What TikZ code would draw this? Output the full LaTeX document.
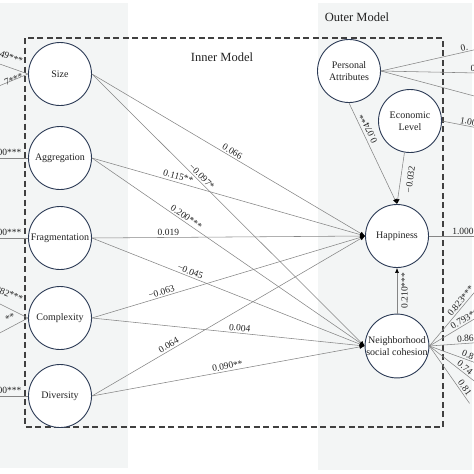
\documentclass[tikz,border=0pt]{standalone}
\usepackage{fontspec}
\setmainfont{Liberation Serif}
\usetikzlibrary{arrows.meta,calc}
\definecolor{bgpanel}{HTML}{F3F5F5}
\definecolor{circ}{HTML}{2B3A55}
\definecolor{edgec}{HTML}{858585}
\definecolor{txt}{HTML}{222222}
\begin{document}
\begin{tikzpicture}[x=1pt,y=-1pt,
  lat/.style={circle,draw=circ,line width=0.9pt,fill=white,minimum size=63pt,inner sep=0pt,align=center,font=\fontsize{10}{11.5}\selectfont,text=txt},
  pathc/.style={draw=edgec,line width=0.55pt,-{Latex[length=5pt,width=4pt,color=black]}},
  pathr/.style={draw=edgec,line width=0.55pt,{Latex[length=5pt,width=4pt,color=black]}-},
  link/.style={draw=edgec,line width=0.55pt},
  lab/.style={font=\fontsize{9.5}{10}\selectfont,text=txt,inner sep=1.5pt},
  title/.style={font=\fontsize{12.5}{14}\selectfont,text=txt}]
\useasboundingbox (0,0) rectangle (474,474);
\clip (0,0) rectangle (474,474);
\fill[bgpanel] (0,3) rectangle (128,468);
\fill[bgpanel] (318,3) rectangle (472,470);
\draw[draw=black!75,line width=1.1pt,dash pattern=on 6pt off 3.5pt] (25,38) rectangle (443,427);
\node[title] (inner) at (222,57) {Inner Model};
\node[title] (outer) at (357,17) {Outer Model};
% latent variables
\node[lat] (size) at (60,74) {Size};
\node[lat] (agg) at (60,158) {Aggregation};
\node[lat] (frag) at (60,238) {Fragmentation};
\node[lat] (comp) at (60,318) {Complexity};
\node[lat] (div) at (60,396) {Diversity};
\node[lat] (pa) at (349,71) {Personal\\Attributes};
\node[lat] (el) at (410,121) {Economic\\Level};
\node[lat] (hap) at (397,236) {Happiness};
\node[lat] (nsc) at (397,346) {Neighborhood\\social cohesion};
% inner paths
\draw[pathc] (size.east) -- node[lab,sloped,above,pos=.505]{0.066} (hap.west);
\draw[pathc] (size.east) -- node[lab,sloped,above,pos=.39]{−0.097*} (nsc.west);
\draw[pathc] (agg.east) -- node[lab,sloped,above,pos=.31,inner sep=2.5pt]{0.115**} (hap.west);
\draw[pathc] (agg.east) -- node[lab,sloped,above,pos=.336]{0.200***} (nsc.west);
\draw[pathc] (frag.east) -- node[lab,sloped,above,pos=.28]{0.019} (hap.west);
\draw[pathc] (frag.east) -- node[lab,sloped,above,pos=.354]{−0.045} (nsc.west);
\draw[pathc] (comp.east) -- node[lab,sloped,above,pos=.26]{−0.063} (hap.west);
\draw[pathc] (comp.east) -- node[lab,sloped,above,pos=.54]{0.004} (nsc.west);
\draw[pathc] (div.east) -- node[lab,sloped,above,pos=.29]{0.064} (hap.west);
\draw[pathc] (div.east) -- node[lab,sloped,above,pos=.5]{0.090**} (nsc.west);
\draw[pathr] (hap.north) -- node[lab,sloped,allow upside down,below,pos=.72,inner sep=3pt]{0.074**} (pa.south);
\draw[pathr] (hap.north) -- node[lab,sloped,below,pos=.5,inner sep=6pt]{−0.032} (el.-100);
\draw[pathc] (nsc.north) -- node[lab,sloped,below,pos=.5,inner sep=4pt]{0.210***} (hap.south);
% outer model, left indicators
\coordinate (s1) at (-6,62);
\coordinate (s2) at (-6,88);
\coordinate (a1) at (-6,158);
\coordinate (f1) at (-6,238);
\coordinate (c1) at (-6,301);
\coordinate (c2) at (-6,336);
\coordinate (d1) at (-6,396);
\draw[link] (s1) -- (size.west);
\draw[link] (s2) -- (size.west);
\draw[link] (a1) -- (agg.west);
\draw[link] (f1) -- (frag.west);
\draw[link] (c1) -- (comp.west);
\draw[link] (c2) -- (comp.west);
\draw[link] (d1) -- (div.west);
\node[lab,anchor=east,rotate=-20] (ls1) at (24,62) {49***};
\node[lab,anchor=east,rotate=23] (ls2) at (24,75) {7***};
\node[lab,anchor=south east] (la1) at (23,157) {1.000***};
\node[lab,anchor=south east] (lf1) at (23,237) {1.000***};
\node[lab,anchor=east,rotate=-22] (lc1) at (24,300) {0.982***};
\node[lab,anchor=east,rotate=24] (lc2) at (16,315) {**};
\node[lab,anchor=south east] (ld1) at (23,395) {1.000***};
% outer model, right indicators
\coordinate (p1) at (478,49);
\coordinate (p2) at (478,73);
\coordinate (p3) at (478,97);
\coordinate (e1) at (478,128);
\coordinate (h1) at (478,236);
\draw[link] (pa.east) -- node[lab,sloped,above,anchor=south west,pos=.82,inner sep=1pt]{0.} (p1);
\draw[link] (pa.east) -- node[lab,sloped,above,anchor=south west,pos=.91,inner sep=1pt]{0} (p2);
\draw[link] (pa.east) -- (p3);
\draw[link] (el.east) -- node[lab,sloped,above,anchor=south west,pos=.45,inner sep=1pt]{1.000***} (e1);
\draw[link] (hap.east) -- node[lab,above,anchor=south west,pos=.45,inner sep=1pt]{1.000***} (h1);
\coordinate (n1) at ($(nsc.east)+(-50:70)$);
\coordinate (n2) at ($(nsc.east)+(-31:70)$);
\coordinate (n3) at ($(nsc.east)+(-4:70)$);
\coordinate (n4) at ($(nsc.east)+(20:70)$);
\coordinate (n5) at ($(nsc.east)+(38:70)$);
\coordinate (n6) at ($(nsc.east)+(55:70)$);
\draw[link] (nsc.east) -- node[lab,sloped,above,pos=.78]{0.823***} (n1);
\draw[link] (nsc.east) -- node[lab,sloped,above,pos=.63]{0.793**} (n2);
\draw[link] (nsc.east) -- node[lab,sloped,above,pos=.52]{0.86} (n3);
\draw[link] (nsc.east) -- node[lab,sloped,above,pos=.56]{0.8} (n4);
\draw[link] (nsc.east) -- node[lab,sloped,above,pos=.59]{0.74} (n5);
\draw[link] (nsc.east) -- node[lab,sloped,above,pos=.78]{0.81} (n6);
\end{tikzpicture}
\end{document}
